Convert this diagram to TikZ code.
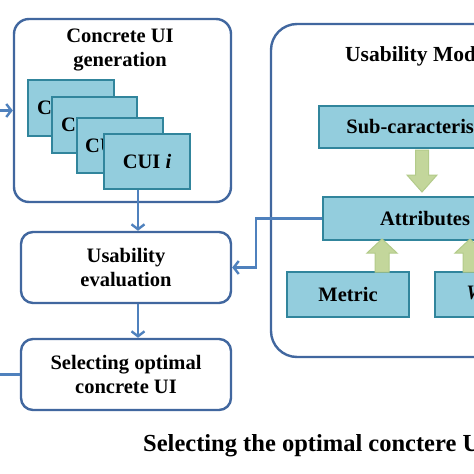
\documentclass[tikz,border=0pt]{standalone}
\usepackage{fontspec}
\setmainfont{Liberation Serif}
\usetikzlibrary{arrows.meta,calc}
\definecolor{connc}{HTML}{4F81BD}
\definecolor{boxline}{HTML}{41679F}
\definecolor{cardfill}{HTML}{93CDDD}
\definecolor{cardline}{HTML}{31859C}
\definecolor{gfill}{HTML}{C3D69B}
\definecolor{gline}{HTML}{B3CB8A}
\begin{document}
\begin{tikzpicture}[x=1pt,y=-1pt,
  font=\bfseries\fontsize{20.5}{23.5}\selectfont,
  roundbox/.style={draw=boxline, line width=2.4pt, fill=white, align=center, inner sep=0pt},
  card/.style={draw=cardline, line width=2pt, fill=cardfill, inner sep=0pt},
  bluebox/.style={draw=cardline, line width=2pt, fill=cardfill, inner sep=0pt},
  conn/.style={draw=connc, line width=2.4pt},
  arr/.style={conn, -{Straight Barb[length=5pt,width=13pt]}},
  garrow/.style={fill=gfill, draw=gline, line width=1pt},
  plain/.style={inner sep=0pt}]
\useasboundingbox (0,0) rectangle (474,474);
\fill[white] (0,0) rectangle (474,474);
\clip (0,0) rectangle (474,474);

% left column
\node[roundbox, minimum width=217, minimum height=183, rounded corners=15pt] (gen) at (122.5,110.5) {};
\node[plain, align=center] (gentitle) at (120,50) {Concrete UI\\generation};
\node[card, minimum width=86, minimum height=56] (c1) at (71,108) {};
\node[plain, anchor=west] (t1) at ([xshift=10pt]c1.west) {CUI 1};
\node[card, minimum width=85, minimum height=56] (c2) at (94.5,125) {};
\node[plain, anchor=west] (t2) at ([xshift=10pt]c2.west) {CUI 2};
\node[card, minimum width=86, minimum height=55] (c3) at (120,145.5) {};
\node[plain, anchor=west] (t3) at ([xshift=9pt]c3.west) {CUI 3};
\node[card, minimum width=86, minimum height=55] (c4) at (147,161.5) {CUI \textit{i}};

\node[roundbox, minimum width=210, minimum height=71, rounded corners=12pt] (eval) at (126,267.5) {Usability\\evaluation};
\node[roundbox, minimum width=210, minimum height=71, rounded corners=12pt] (sel) at (126,374.5) {Selecting optimal\\concrete UI};

% usability model
\node[roundbox, minimum width=329, minimum height=333, rounded corners=26pt] (model) at (435.5,190.5) {};
\node[plain, anchor=base west, font=\bfseries\fontsize{21.5}{24}\selectfont] (mtitle) at (345,61) {Usability Model};
\node[bluebox, minimum width=212, minimum height=42] (sub) at (425,127) {Sub-caracteristics};
\node[bluebox, minimum width=204, minimum height=43] (attr) at (425,218.5) {Attributes};
\node[bluebox, minimum width=122, minimum height=45] (metric) at (348,294.5) {Metric};
\node[bluebox, minimum width=122, minimum height=45] (weight) at (496,294.5) {\textit{Weight}};

% green block arrows
\draw[garrow] (415.5,150) -- (428.5,150) -- (428.5,175) -- (437,175) -- (422,192) -- (407,175) -- (415.5,175) -- cycle;
\draw[garrow] (375,272) -- (389,272) -- (389,253) -- (397,253) -- (382,239) -- (367,253) -- (375,253) -- cycle;
\draw[garrow] (463,272) -- (477,272) -- (477,253) -- (485,253) -- (470,239) -- (455,253) -- (463,253) -- cycle;

% connectors
\coordinate (inL) at (0,110.5);
\draw[arr] (inL) -- (gen.west);
\draw[arr] ([xshift=-9pt]c4.south) -- ([xshift=12pt]eval.north);
\draw[arr] ([xshift=12pt]eval.south) -- ([xshift=12pt]sel.north);
\draw[arr] (attr.west) -- ++(-66,0) |- (eval.east);
\coordinate (outL) at (0,374.5);
\draw[conn] (outL) -- (sel.west);

% caption
\node[plain, anchor=base west, font=\bfseries\fontsize{24.5}{27}\selectfont] (cap) at (143,451) {Selecting the optimal conctere UI};
\end{tikzpicture}
\end{document}
